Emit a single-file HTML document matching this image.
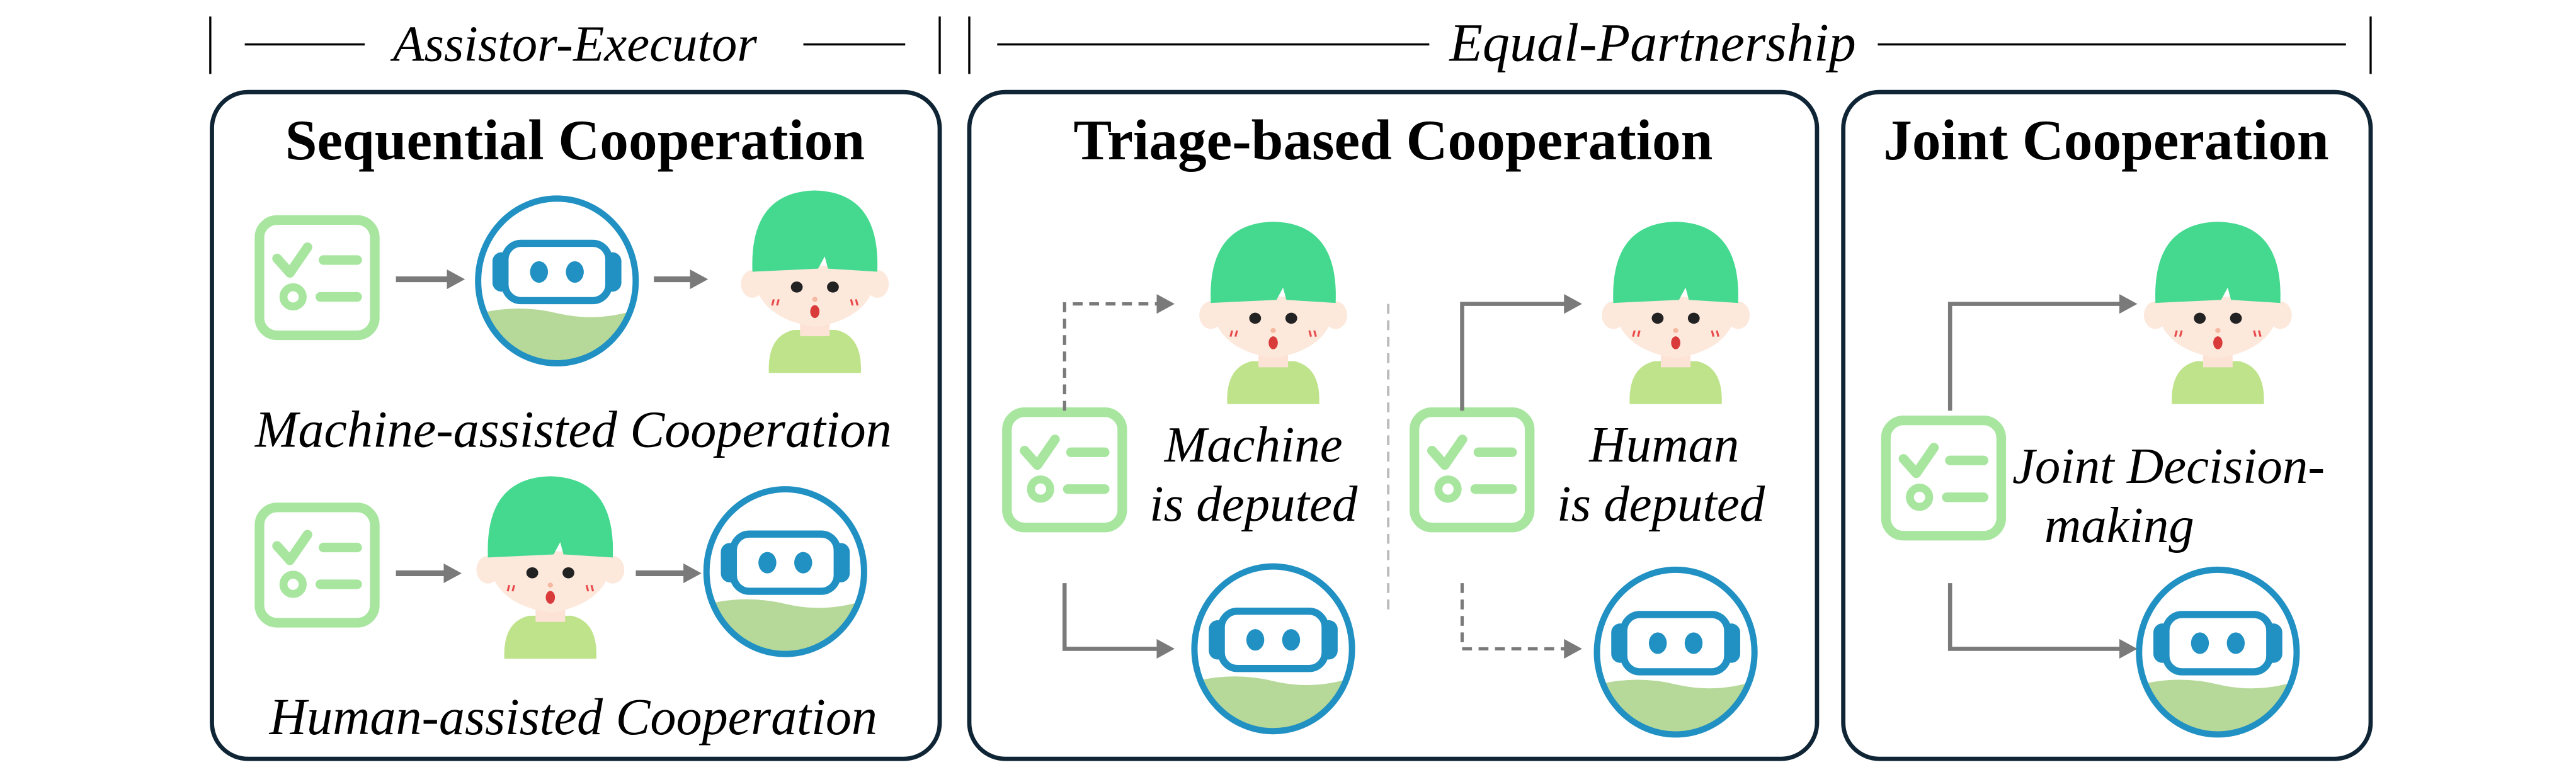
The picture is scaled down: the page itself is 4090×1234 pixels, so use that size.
<!DOCTYPE html>
<html><head><meta charset="utf-8">
<style>
html,body{margin:0;padding:0;background:#fff;}
svg{display:block;}
text{font-family:"Liberation Serif",serif;fill:#000;}
.it{font-style:italic;}
</style></head><body>
<svg width="4090" height="1234" viewBox="0 0 1568 473" xmlns="http://www.w3.org/2000/svg">
<defs>
  <marker id="ah" markerWidth="12" markerHeight="12" refX="8" refY="6" orient="auto" markerUnits="userSpaceOnUse">
    <path d="M0,0 L11,6 L0,12 z" fill="#7a7a7a"/>
  </marker>
  <symbol id="chk" viewBox="0 0 80 80" overflow="visible">
    <rect x="3" y="3" width="72" height="72" rx="11" fill="none" stroke="#a8e6a0" stroke-width="6"/>
    <path d="M14,27 L22,36 L33,20" fill="none" stroke="#a8e6a0" stroke-width="6" stroke-linecap="round" stroke-linejoin="round"/>
    <line x1="43" y1="28" x2="64" y2="28" stroke="#a8e6a0" stroke-width="6" stroke-linecap="round"/>
    <circle cx="24" cy="51" r="6" fill="none" stroke="#a8e6a0" stroke-width="5"/>
    <line x1="41" y1="51" x2="64" y2="51" stroke="#a8e6a0" stroke-width="6" stroke-linecap="round"/>
  </symbol>
  <clipPath id="rc"><ellipse cx="0" cy="0" rx="44" ry="46"/></clipPath>
  <symbol id="rob" viewBox="-50 -55 100 110" overflow="visible">
    <ellipse cx="0" cy="0" rx="44" ry="46" fill="#fff"/>
    <path d="M-50,20 Q-25,12 0,18 Q25,24 50,14 L50,60 L-50,60 z" fill="#b6d99a" clip-path="url(#rc)"/>
    <ellipse cx="0" cy="0" rx="44" ry="46" fill="none" stroke="#2190c2" stroke-width="3.5"/>
    <rect x="-36" y="-16" width="10" height="22" rx="5" fill="#2190c2"/>
    <rect x="26" y="-16" width="10" height="22" rx="5" fill="#2190c2"/>
    <rect x="-29" y="-21" width="58" height="32" rx="9" fill="#fff" stroke="#2190c2" stroke-width="4"/>
    <ellipse cx="-10" cy="-5" rx="5" ry="6" fill="#2190c2"/>
    <ellipse cx="10" cy="-5" rx="5" ry="6" fill="#2190c2"/>
  </symbol>
  <symbol id="hum" viewBox="-50 -60 100 120" overflow="visible" preserveAspectRatio="none">
    <path d="M-28,60 Q-29,36 -13,32 L13,32 Q29,36 28,60 z" fill="#bfe38a"/>
    <rect x="-9" y="22" width="18" height="14" fill="#fde3d6"/>
    <ellipse cx="-38" cy="2" rx="7" ry="9" fill="#fde8dc"/>
    <ellipse cx="38" cy="2" rx="7" ry="9" fill="#fde8dc"/>
    <path d="M-38,-10 Q-38,24 0,30 Q38,24 38,-10 z" fill="#fde8dc"/>
    <path d="M-38,-6 Q-40,-58 0,-59 Q40,-58 38,-6 L8,-8 L6,-16 L2,-8 z" fill="#45d990"/>
    <circle cx="-11" cy="4" r="3.6" fill="#222"/>
    <circle cx="11" cy="4" r="3.6" fill="#222"/>
    <path d="M-25,12 l-1,4 M-22,12 l-1,4 M22,12 l1,4 M25,12 l1,4" stroke="#e84a4a" stroke-width="1.2"/>
    <circle cx="0" cy="12" r="1.6" fill="#f5b8a0"/>
    <ellipse cx="0" cy="20" rx="2.8" ry="4.2" fill="#d93a3a"/>
  </symbol>
</defs>

<!-- Headers -->
<g stroke="#000" stroke-width="1.3">
  <line x1="128" y1="10" x2="128" y2="45"/>
  <line x1="572" y1="10" x2="572" y2="45"/>
  <line x1="149" y1="27" x2="222" y2="27"/>
  <line x1="489" y1="27" x2="551" y2="27"/>
  <line x1="590" y1="10" x2="590" y2="45"/>
  <line x1="1443" y1="10" x2="1443" y2="45"/>
  <line x1="607" y1="27" x2="870" y2="27"/>
  <line x1="1143" y1="27" x2="1428" y2="27"/>
</g>
<text x="350" y="37" font-size="31" class="it" text-anchor="middle">Assistor-Executor</text>
<text x="1006" y="37" font-size="33" class="it" text-anchor="middle">Equal-Partnership</text>

<!-- Boxes -->
<g fill="none" stroke="#0f2535" stroke-width="2.6">
  <rect x="129" y="56" width="443" height="406" rx="22"/>
  <rect x="590" y="56" width="516" height="406" rx="22"/>
  <rect x="1122" y="56" width="321" height="406" rx="22"/>
</g>
<text x="350" y="97" font-size="35" font-weight="bold" text-anchor="middle">Sequential Cooperation</text>
<text x="848" y="97" font-size="35" font-weight="bold" text-anchor="middle">Triage-based Cooperation</text>
<text x="1282" y="97" font-size="35" font-weight="bold" text-anchor="middle">Joint Cooperation</text>

<!-- Left box -->
<use href="#chk" x="155" y="131" width="78" height="78"/>
<line x1="241" y1="170" x2="280" y2="170" stroke="#7a7a7a" stroke-width="3.5" marker-end="url(#ah)"/>
<use href="#rob" x="284.5" y="111" width="109" height="120"/>
<line x1="398" y1="170" x2="428" y2="170" stroke="#7a7a7a" stroke-width="3.5" marker-end="url(#ah)"/>
<use href="#hum" x="446" y="115" width="100" height="112"/>
<text x="349" y="272" font-size="31.5" class="it" text-anchor="middle">Machine-assisted Cooperation</text>

<use href="#chk" x="155" y="306" width="78" height="78"/>
<line x1="241" y1="349" x2="278" y2="349" stroke="#7a7a7a" stroke-width="3.5" marker-end="url(#ah)"/>
<use href="#hum" x="285" y="289" width="100" height="112"/>
<line x1="387" y1="349" x2="424" y2="349" stroke="#7a7a7a" stroke-width="3.5" marker-end="url(#ah)"/>
<use href="#rob" x="423.5" y="288" width="109" height="120"/>
<text x="349" y="447" font-size="31.5" class="it" text-anchor="middle">Human-assisted Cooperation</text>

<!-- Middle box -->
<use href="#hum" x="725" y="134" width="100" height="112"/>
<use href="#chk" x="610" y="248" width="78" height="78"/>
<text x="763" y="281" font-size="31" class="it" text-anchor="middle">Machine</text>
<text x="763" y="317" font-size="31" class="it" text-anchor="middle">is deputed</text>
<use href="#rob" x="720.5" y="335" width="109" height="120"/>
<path d="M648,250 L648,185 L712,185" fill="none" stroke="#7a7a7a" stroke-width="2" stroke-dasharray="6,4" marker-end="url(#ah)"/>
<path d="M648,355 L648,395 L712,395" fill="none" stroke="#7a7a7a" stroke-width="2.5" marker-end="url(#ah)"/>
<line x1="845" y1="185" x2="845" y2="372" stroke="#bbb" stroke-width="1.5" stroke-dasharray="6,4"/>

<use href="#hum" x="970" y="134" width="100" height="112"/>
<use href="#chk" x="858" y="248" width="78" height="78"/>
<text x="1013" y="281" font-size="31" class="it" text-anchor="middle">Human</text>
<text x="1011" y="317" font-size="31" class="it" text-anchor="middle">is deputed</text>
<use href="#rob" x="965.5" y="337" width="109" height="120"/>
<path d="M890,250 L890,185 L960,185" fill="none" stroke="#7a7a7a" stroke-width="2.5" marker-end="url(#ah)"/>
<path d="M890,355 L890,395 L960,395" fill="none" stroke="#7a7a7a" stroke-width="2" stroke-dasharray="6,4" marker-end="url(#ah)"/>

<!-- Right box -->
<use href="#hum" x="1300" y="134" width="100" height="112"/>
<use href="#chk" x="1145" y="253" width="78" height="78"/>
<text x="1320" y="294" font-size="31" class="it" text-anchor="middle">Joint Decision-</text>
<text x="1290" y="330" font-size="31" class="it" text-anchor="middle">making</text>
<use href="#rob" x="1295.5" y="337" width="109" height="120"/>
<path d="M1187,250 L1187,185 L1298,185" fill="none" stroke="#7a7a7a" stroke-width="2.5" marker-end="url(#ah)"/>
<path d="M1187,355 L1187,395 L1298,395" fill="none" stroke="#7a7a7a" stroke-width="2.5" marker-end="url(#ah)"/>
</svg>
</body></html>
